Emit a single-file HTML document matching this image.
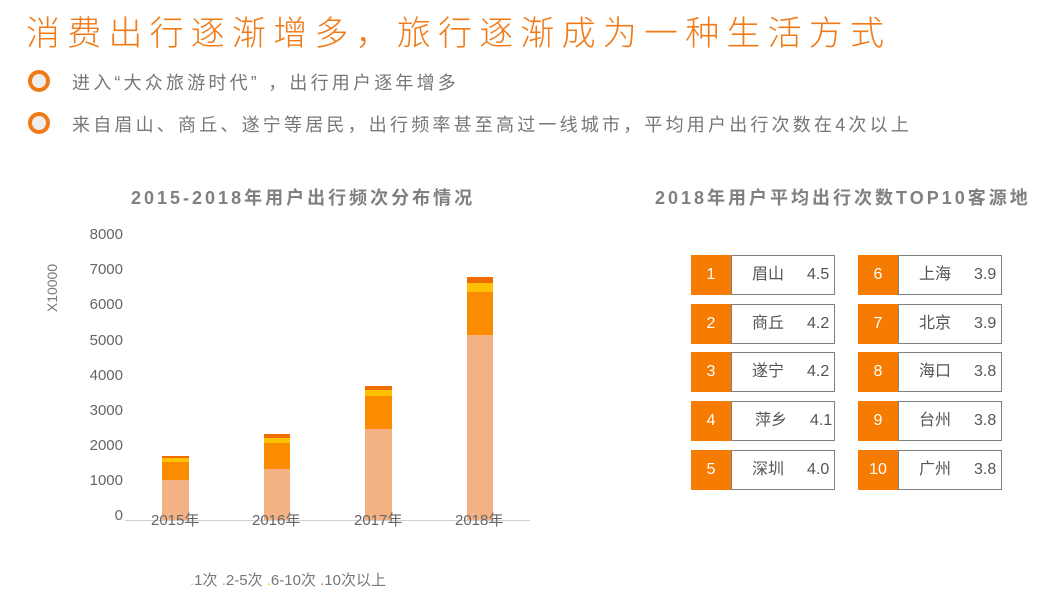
<!DOCTYPE html>
<html><head><meta charset="utf-8"><style>
body{margin:0;width:1049px;height:592px;background:#fff;position:relative;overflow:hidden;font-family:"Liberation Sans","Noto Sans CJK SC",sans-serif;}
.a{position:absolute;white-space:nowrap;}
.title{left:26px;top:6px;font-size:34px;color:#f07a17;letter-spacing:7.2px;font-weight:300;}
.bul{width:14px;height:14px;border:4px solid #f07a17;border-radius:50%;background:#eee;}
.bt{font-size:18px;color:#777;letter-spacing:3.2px;}
.ct{font-size:18px;color:#808080;letter-spacing:3px;font-weight:bold;}
.yl{font-size:15px;color:#666;width:40px;text-align:right;left:83px;}
.num{background:#f57c00;color:#fff;width:40px;height:40px;line-height:40px;text-align:center;font-size:16px;}
.cell{width:102px;height:38px;border:1px solid #808080;font-size:16px;color:#555;line-height:38px;box-sizing:content-box;}
.cell span{position:absolute;}
.xl{font-size:15px;color:#666;top:509px;}
</style></head><body>
<div class="a title">消费出行逐渐增多，旅行逐渐成为一种生活方式</div>
<div class="a bul" style="left:28px;top:70px"></div>
<div class="a bt" style="left:72px;top:69px">进入“大众旅游时代” ，出行用户逐年增多</div>
<div class="a bul" style="left:28px;top:112px"></div>
<div class="a bt" style="left:72px;top:111px">来自眉山、商丘、遂宁等居民，出行频率甚至高过一线城市，平均用户出行次数在4次以上</div>

<div class="a ct" style="left:131px;top:184px">2015-2018年用户出行频次分布情况</div>
<div class="a ct" style="left:655px;top:184px">2018年用户平均出行次数TOP10客源地</div>

<div class="a" style="left:28px;top:280px;transform:rotate(-90deg);font-size:14px;color:#777;">X10000</div>

<div class="a yl" style="top:226px">8000</div>
<div class="a yl" style="top:261px">7000</div>
<div class="a yl" style="top:296px">6000</div>
<div class="a yl" style="top:332px">5000</div>
<div class="a yl" style="top:367px">4000</div>
<div class="a yl" style="top:402px">3000</div>
<div class="a yl" style="top:437px">2000</div>
<div class="a yl" style="top:472px">1000</div>
<div class="a yl" style="top:507px">0</div>

<svg class="a" style="left:0;top:0" width="1049" height="592">
<g>
<rect x="162" y="480" width="27" height="40" fill="#f4b183"/>
<rect x="162" y="462" width="27" height="18" fill="#fb8c00"/>
<rect x="162" y="458" width="27" height="4" fill="#ffc000"/>
<rect x="162" y="456" width="27" height="2" fill="#ef6c00"/>
<rect x="264" y="469" width="26" height="51" fill="#f4b183"/>
<rect x="264" y="443" width="26" height="26" fill="#fb8c00"/>
<rect x="264" y="438" width="26" height="5" fill="#ffc000"/>
<rect x="264" y="434" width="26" height="4" fill="#ef6c00"/>
<rect x="365" y="429" width="27" height="91" fill="#f4b183"/>
<rect x="365" y="396" width="27" height="33" fill="#fb8c00"/>
<rect x="365" y="390" width="27" height="6" fill="#ffc000"/>
<rect x="365" y="386" width="27" height="4" fill="#ef6c00"/>
<rect x="467" y="335" width="26" height="185" fill="#f4b183"/>
<rect x="467" y="292" width="26" height="43" fill="#fb8c00"/>
<rect x="467" y="283" width="26" height="9" fill="#ffc000"/>
<rect x="467" y="277" width="26" height="6" fill="#ef6c00"/>
</g>
<line x1="125" y1="520.5" x2="530" y2="520.5" stroke="#d0d0d0" stroke-width="1"/>
</svg>
<div class="a xl" style="left:151px">2015年</div>
<div class="a xl" style="left:252px">2016年</div>
<div class="a xl" style="left:354px">2017年</div>
<div class="a xl" style="left:455px">2018年</div>
<div class="a" style="left:190px;top:569px;font-size:15px;color:#777;"><span style="color:#f4b183">.</span>1次 <span style="color:#fb8c00">.</span>2-5次 <span style="color:#ffc000">.</span>6-10次 <span style="color:#ef6c00">.</span>10次以上</div>

<div class="a num" style="left:691px;top:255px">1</div><div class="a cell" style="left:731px;top:255px"><span style="left:20px">眉山</span><span style="left:75px">4.5</span></div>
<div class="a num" style="left:691px;top:304px">2</div><div class="a cell" style="left:731px;top:304px"><span style="left:20px">商丘</span><span style="left:75px">4.2</span></div>
<div class="a num" style="left:691px;top:352px">3</div><div class="a cell" style="left:731px;top:352px"><span style="left:20px">遂宁</span><span style="left:75px">4.2</span></div>
<div class="a num" style="left:691px;top:401px">4</div><div class="a cell" style="left:731px;top:401px"><span style="left:23px">萍乡</span><span style="left:78px">4.1</span></div>
<div class="a num" style="left:691px;top:450px">5</div><div class="a cell" style="left:731px;top:450px"><span style="left:20px">深圳</span><span style="left:75px">4.0</span></div>
<div class="a num" style="left:858px;top:255px">6</div><div class="a cell" style="left:898px;top:255px"><span style="left:20px">上海</span><span style="left:75px">3.9</span></div>
<div class="a num" style="left:858px;top:304px">7</div><div class="a cell" style="left:898px;top:304px"><span style="left:20px">北京</span><span style="left:75px">3.9</span></div>
<div class="a num" style="left:858px;top:352px">8</div><div class="a cell" style="left:898px;top:352px"><span style="left:20px">海口</span><span style="left:75px">3.8</span></div>
<div class="a num" style="left:858px;top:401px">9</div><div class="a cell" style="left:898px;top:401px"><span style="left:20px">台州</span><span style="left:75px">3.8</span></div>
<div class="a num" style="left:858px;top:450px">10</div><div class="a cell" style="left:898px;top:450px"><span style="left:20px">广州</span><span style="left:75px">3.8</span></div>
</body></html>
